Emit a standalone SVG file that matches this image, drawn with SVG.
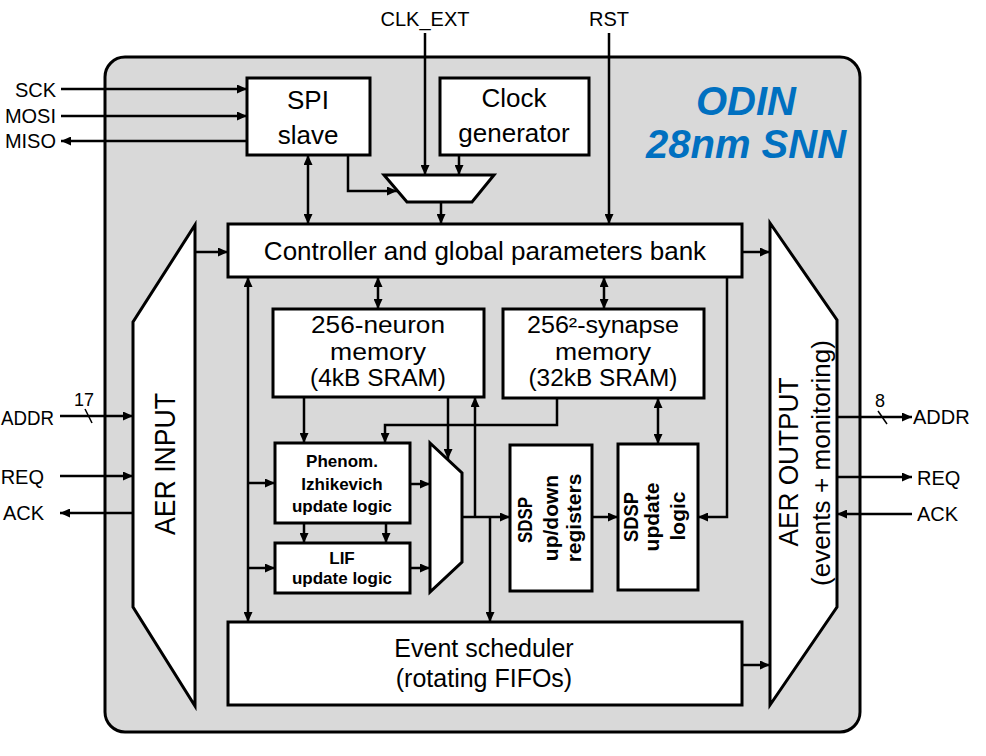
<svg xmlns="http://www.w3.org/2000/svg" width="986" height="756" viewBox="0 0 986 756">
<defs>
<style>
.box{fill:#fff;stroke:#000;stroke-width:3}
.frame{fill:#d9d9d9;stroke:#000;stroke-width:3}
.c{fill:none;stroke:#000;stroke-width:2.5}
.a{marker-end:url(#ah)}
.b{marker-start:url(#ah);marker-end:url(#ah)}
.sl{fill:none;stroke:#000;stroke-width:1.5}
text{font-family:"Liberation Sans",Arial,sans-serif;fill:#000}
.t26{font-size:26px}
.t25{font-size:25px}
.t23{font-size:23px}
.pin{font-size:20px}
.num{font-size:18px}
.b17{font-size:17px;font-weight:bold}
.b21{font-size:21px;font-weight:bold}
.title{font-size:40px;font-weight:bold;font-style:italic;fill:#0070c0}
.mid{text-anchor:middle}
.end{text-anchor:end}
</style>
<marker id="ah" viewBox="0 0 10 10" refX="10" refY="5" markerWidth="10" markerHeight="9" markerUnits="userSpaceOnUse" orient="auto-start-reverse" preserveAspectRatio="none">
<path d="M0,0 L10,5 L0,10 z" fill="#000"/>
</marker>
</defs>
<rect x="0" y="0" width="986" height="756" fill="#fff"/>

<g id="chip">
<rect class="frame" x="105" y="57" width="755" height="675" rx="20" ry="20"/>
</g>

<g id="title">
<text class="title mid" x="746" y="115">ODIN</text>
<text class="title mid" x="746" y="158">28nm SNN</text>
</g>

<g id="spi-slave">
<rect class="box" x="247" y="78" width="123" height="77"/>
<text class="t26 mid" x="308" y="109">SPI</text>
<text class="t26 mid" x="308" y="144">slave</text>
</g>

<g id="clock-generator">
<rect class="box" x="440" y="78" width="149" height="77"/>
<text class="t26 mid" x="514" y="107">Clock</text>
<text class="t26 mid" x="514" y="142">generator</text>
</g>

<g id="clock-mux">
<polygon class="box" points="384,175 494,175 472,202 407,202"/>
</g>

<g id="controller">
<rect class="box" x="228" y="224" width="514" height="53"/>
<text class="t26 mid" x="485" y="260">Controller and global parameters bank</text>
</g>

<g id="aer-input">
<polygon class="box" points="195,225 195,706 133,607 133,322"/>
<text class="mid" transform="translate(175,464) rotate(-90)" textLength="142" lengthAdjust="spacingAndGlyphs" style="font-size:29px">AER INPUT</text>
</g>

<g id="aer-output">
<polygon class="box" points="770,223 837,320 837,607 770,705"/>
<text class="mid" transform="translate(798,462) rotate(-90)" textLength="169" lengthAdjust="spacingAndGlyphs" style="font-size:28px">AER OUTPUT</text>
<text class="t26 mid" transform="translate(830,463) rotate(-90)" textLength="246" lengthAdjust="spacingAndGlyphs">(events + monitoring)</text>
</g>

<g id="neuron-memory">
<rect class="box" x="273" y="309" width="211" height="88"/>
<text class="t23 mid" x="378" y="333" textLength="134" lengthAdjust="spacingAndGlyphs">256-neuron</text>
<text class="t23 mid" x="378" y="360" textLength="96" lengthAdjust="spacingAndGlyphs">memory</text>
<text class="t23 mid" x="378" y="386" textLength="136" lengthAdjust="spacingAndGlyphs">(4kB SRAM)</text>
</g>

<g id="synapse-memory">
<rect class="box" x="503" y="309" width="201" height="89"/>
<text class="t23 mid" x="603" y="333" textLength="152" lengthAdjust="spacingAndGlyphs">256²-synapse</text>
<text class="t23 mid" x="603" y="360" textLength="96" lengthAdjust="spacingAndGlyphs">memory</text>
<text class="t23 mid" x="603" y="386" textLength="149" lengthAdjust="spacingAndGlyphs">(32kB SRAM)</text>
</g>

<g id="izhikevich">
<rect class="box" x="275" y="443" width="135" height="80"/>
<text class="b17 mid" x="342" y="467">Phenom.</text>
<text class="b17 mid" x="342" y="490">Izhikevich</text>
<text class="b17 mid" x="342" y="512">update logic</text>
</g>

<g id="lif">
<rect class="box" x="275" y="543" width="135" height="50"/>
<text class="b17 mid" x="342" y="564">LIF</text>
<text class="b17 mid" x="342" y="584">update logic</text>
</g>

<g id="neuron-mux">
<polygon class="box" points="430,443 462,473 462,562 430,592"/>
</g>

<g id="sdsp-registers">
<rect class="box" x="510" y="445" width="82" height="146"/>
<text class="b21 mid" transform="translate(531.5,520) rotate(-90)" textLength="46" lengthAdjust="spacingAndGlyphs">SDSP</text>
<text class="b21 mid" transform="translate(558,518) rotate(-90)">up/down</text>
<text class="b21 mid" transform="translate(581,518) rotate(-90)">registers</text>
</g>

<g id="sdsp-update">
<rect class="box" x="618" y="444" width="80" height="146"/>
<text class="b21 mid" transform="translate(638,517) rotate(-90)" textLength="50" lengthAdjust="spacingAndGlyphs">SDSP</text>
<text class="b21 mid" transform="translate(659,517) rotate(-90)">update</text>
<text class="b21 mid" transform="translate(685,516) rotate(-90)">logic</text>
</g>

<g id="event-scheduler">
<rect class="box" x="228" y="622" width="514" height="83"/>
<text class="t25 mid" x="484" y="657">Event scheduler</text>
<text class="t25 mid" x="484" y="687">(rotating FIFOs)</text>
</g>

<g id="connectors">
<line class="c a" x1="61" y1="89" x2="247" y2="89"/>
<line class="c a" x1="61" y1="116" x2="247" y2="116"/>
<line class="c a" x1="247" y1="141" x2="61" y2="141"/>
<line class="c a" x1="425" y1="33" x2="425" y2="175"/>
<line class="c a" x1="459" y1="155" x2="459" y2="175"/>
<path class="c a" d="M348,155 V191 H397"/>
<line class="c a" x1="441" y1="202" x2="441" y2="224"/>
<line class="c b" x1="308" y1="155" x2="308" y2="224"/>
<line class="c a" x1="609" y1="33" x2="609" y2="224"/>
<line class="c a" x1="195" y1="252" x2="228" y2="252"/>
<line class="c a" x1="742" y1="252" x2="770" y2="252"/>
<line class="c b" x1="378" y1="277" x2="378" y2="309"/>
<line class="c b" x1="604" y1="277" x2="604" y2="309"/>
<line class="c b" x1="248" y1="277" x2="248" y2="622"/>
<line class="c a" x1="248" y1="483" x2="275" y2="483"/>
<line class="c a" x1="248" y1="568" x2="275" y2="568"/>
<line class="c a" x1="304" y1="397" x2="304" y2="443"/>
<path class="c a" d="M557,398 V425 H385 V443"/>
<line class="c a" x1="304" y1="523" x2="304" y2="543"/>
<line class="c a" x1="386" y1="523" x2="386" y2="543"/>
<line class="c a" x1="448" y1="397" x2="448" y2="459"/>
<line class="c a" x1="410" y1="484" x2="430" y2="484"/>
<line class="c a" x1="410" y1="568" x2="430" y2="568"/>
<line class="c a" x1="462" y1="517" x2="510" y2="517"/>
<line class="c a" x1="475" y1="517" x2="475" y2="397"/>
<line class="c a" x1="490" y1="517" x2="490" y2="622"/>
<line class="c a" x1="592" y1="517" x2="618" y2="517"/>
<line class="c b" x1="658" y1="398" x2="658" y2="444"/>
<path class="c a" d="M727,277 V517 H698"/>
<line class="c a" x1="742" y1="665" x2="770" y2="665"/>
<line class="c a" x1="60" y1="416" x2="133" y2="416"/>
<line class="c a" x1="60" y1="476" x2="133" y2="476"/>
<line class="c a" x1="133" y1="513" x2="60" y2="513"/>
<line class="c a" x1="837" y1="417" x2="912" y2="417"/>
<line class="c a" x1="837" y1="477" x2="912" y2="477"/>
<line class="c a" x1="912" y1="514" x2="837" y2="514"/>
<line class="sl" x1="85" y1="409" x2="92" y2="423"/>
<line class="sl" x1="878" y1="411" x2="887" y2="424"/>
</g>

<g id="pin-labels">
<text class="pin mid" x="425" y="26">CLK_EXT</text>
<text class="pin mid" x="609" y="26">RST</text>
<text class="pin end" x="56" y="97">SCK</text>
<text class="pin end" x="56" y="123">MOSI</text>
<text class="pin end" x="56" y="148">MISO</text>
<text class="pin" x="1" y="425" textLength="53" lengthAdjust="spacingAndGlyphs">ADDR</text>
<text class="pin end" x="44" y="484">REQ</text>
<text class="pin end" x="44" y="520">ACK</text>
<text class="num mid" x="84" y="406">17</text>
<text class="pin" x="913" y="424">ADDR</text>
<text class="pin" x="917" y="485">REQ</text>
<text class="pin" x="917" y="521">ACK</text>
<text class="num mid" x="880" y="407">8</text>
</g>
</svg>
